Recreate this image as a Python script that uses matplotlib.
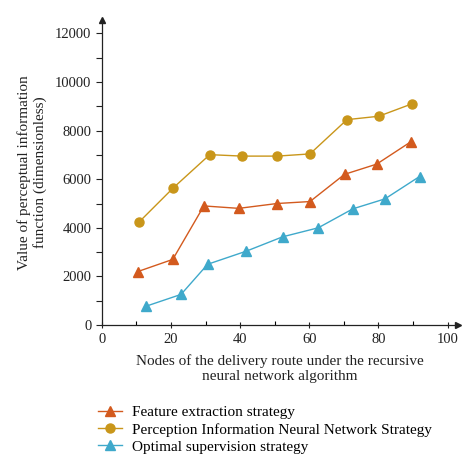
import matplotlib
matplotlib.use("Agg")
import matplotlib.pyplot as plt
from matplotlib.ticker import MultipleLocator

plt.rcParams['font.family'] = ['Liberation Serif', 'DejaVu Serif']

feat_x = [10.4, 20.5, 29.5, 39.6, 50.7, 60.2, 70.2, 79.5, 89.5]
feat_y = [2200, 2700, 4900, 4800, 5000, 5080, 6200, 6620, 7550]
perc_x = [10.7, 20.7, 31.2, 40.6, 50.7, 60.2, 70.9, 80.1, 89.7]
perc_y = [4230, 5650, 7010, 6950, 6950, 7040, 8450, 8590, 9100]
opt_x = [12.9, 22.9, 30.6, 41.8, 52.3, 62.6, 72.6, 81.9, 91.9]
opt_y = [780, 1260, 2500, 3040, 3630, 4000, 4780, 5190, 6110]
labels = ["Feature extraction strategy",
          "Perception Information Neural Network Strategy",
          "Optimal supervision strategy"]
xticks = [0, 20, 40, 60, 80, 100]
yticks = [0, 2000, 4000, 6000, 8000, 10000, 12000]

c_feat = '#D35A1E'
c_perc = '#C9961A'
c_opt = '#3FA9CB'

fig = plt.figure(figsize=(4.74, 4.74), dpi=100)
ax = fig.add_axes([0.215, 0.3143, 0.751, 0.6435])

h1, = ax.plot(feat_x, feat_y, color=c_feat, marker='^', markersize=7.5, lw=1.0, label=labels[0])
h2, = ax.plot(perc_x, perc_y, color=c_perc, marker='o', markersize=6.5, lw=1.0, label=labels[1])
h3, = ax.plot(opt_x, opt_y, color=c_opt, marker='^', markersize=7.5, lw=1.0, label=labels[2])

ax.set_xlim(0, 103)
ax.set_ylim(0, 12550)
ax.spines['top'].set_visible(False)
ax.spines['right'].set_visible(False)
for s in ['left', 'bottom']:
    ax.spines[s].set_linewidth(0.9)
    ax.spines[s].set_color('#222222')

ax.set_xticks(xticks)
ax.set_yticks(yticks)
ax.xaxis.set_minor_locator(MultipleLocator(10))
ax.yaxis.set_minor_locator(MultipleLocator(1000))
ax.tick_params(axis='x', which='major', direction='inout', length=5, width=0.8, labelsize=10.5, colors='#222222', pad=3)
ax.tick_params(axis='x', which='minor', direction='in', length=3, width=0.8)
ax.tick_params(axis='y', which='both', direction='out', length=4, width=0.8, labelsize=10.5, colors='#222222')

ax.plot(1, 0, '>', color='#222222', markersize=5, transform=ax.transAxes, clip_on=False)
ax.plot(0, 1, '^', color='#222222', markersize=5, transform=ax.transAxes, clip_on=False)

ax.set_xlabel("Nodes of the delivery route under the recursive\nneural network algorithm",
              fontsize=11, color='#222222', labelpad=6, linespacing=1.2)
ax.set_ylabel("Value of perceptual information\nfunction (dimensionless)",
              fontsize=11, color='#222222', labelpad=6, linespacing=1.2)

fig.legend(handles=[h1, h2, h3], loc='upper left', bbox_to_anchor=(0.19, 0.16),
           frameon=False, fontsize=11, handlelength=1.6, handletextpad=0.65,
           labelspacing=0.22, borderpad=0)

fig.savefig('out.png', dpi=100)
